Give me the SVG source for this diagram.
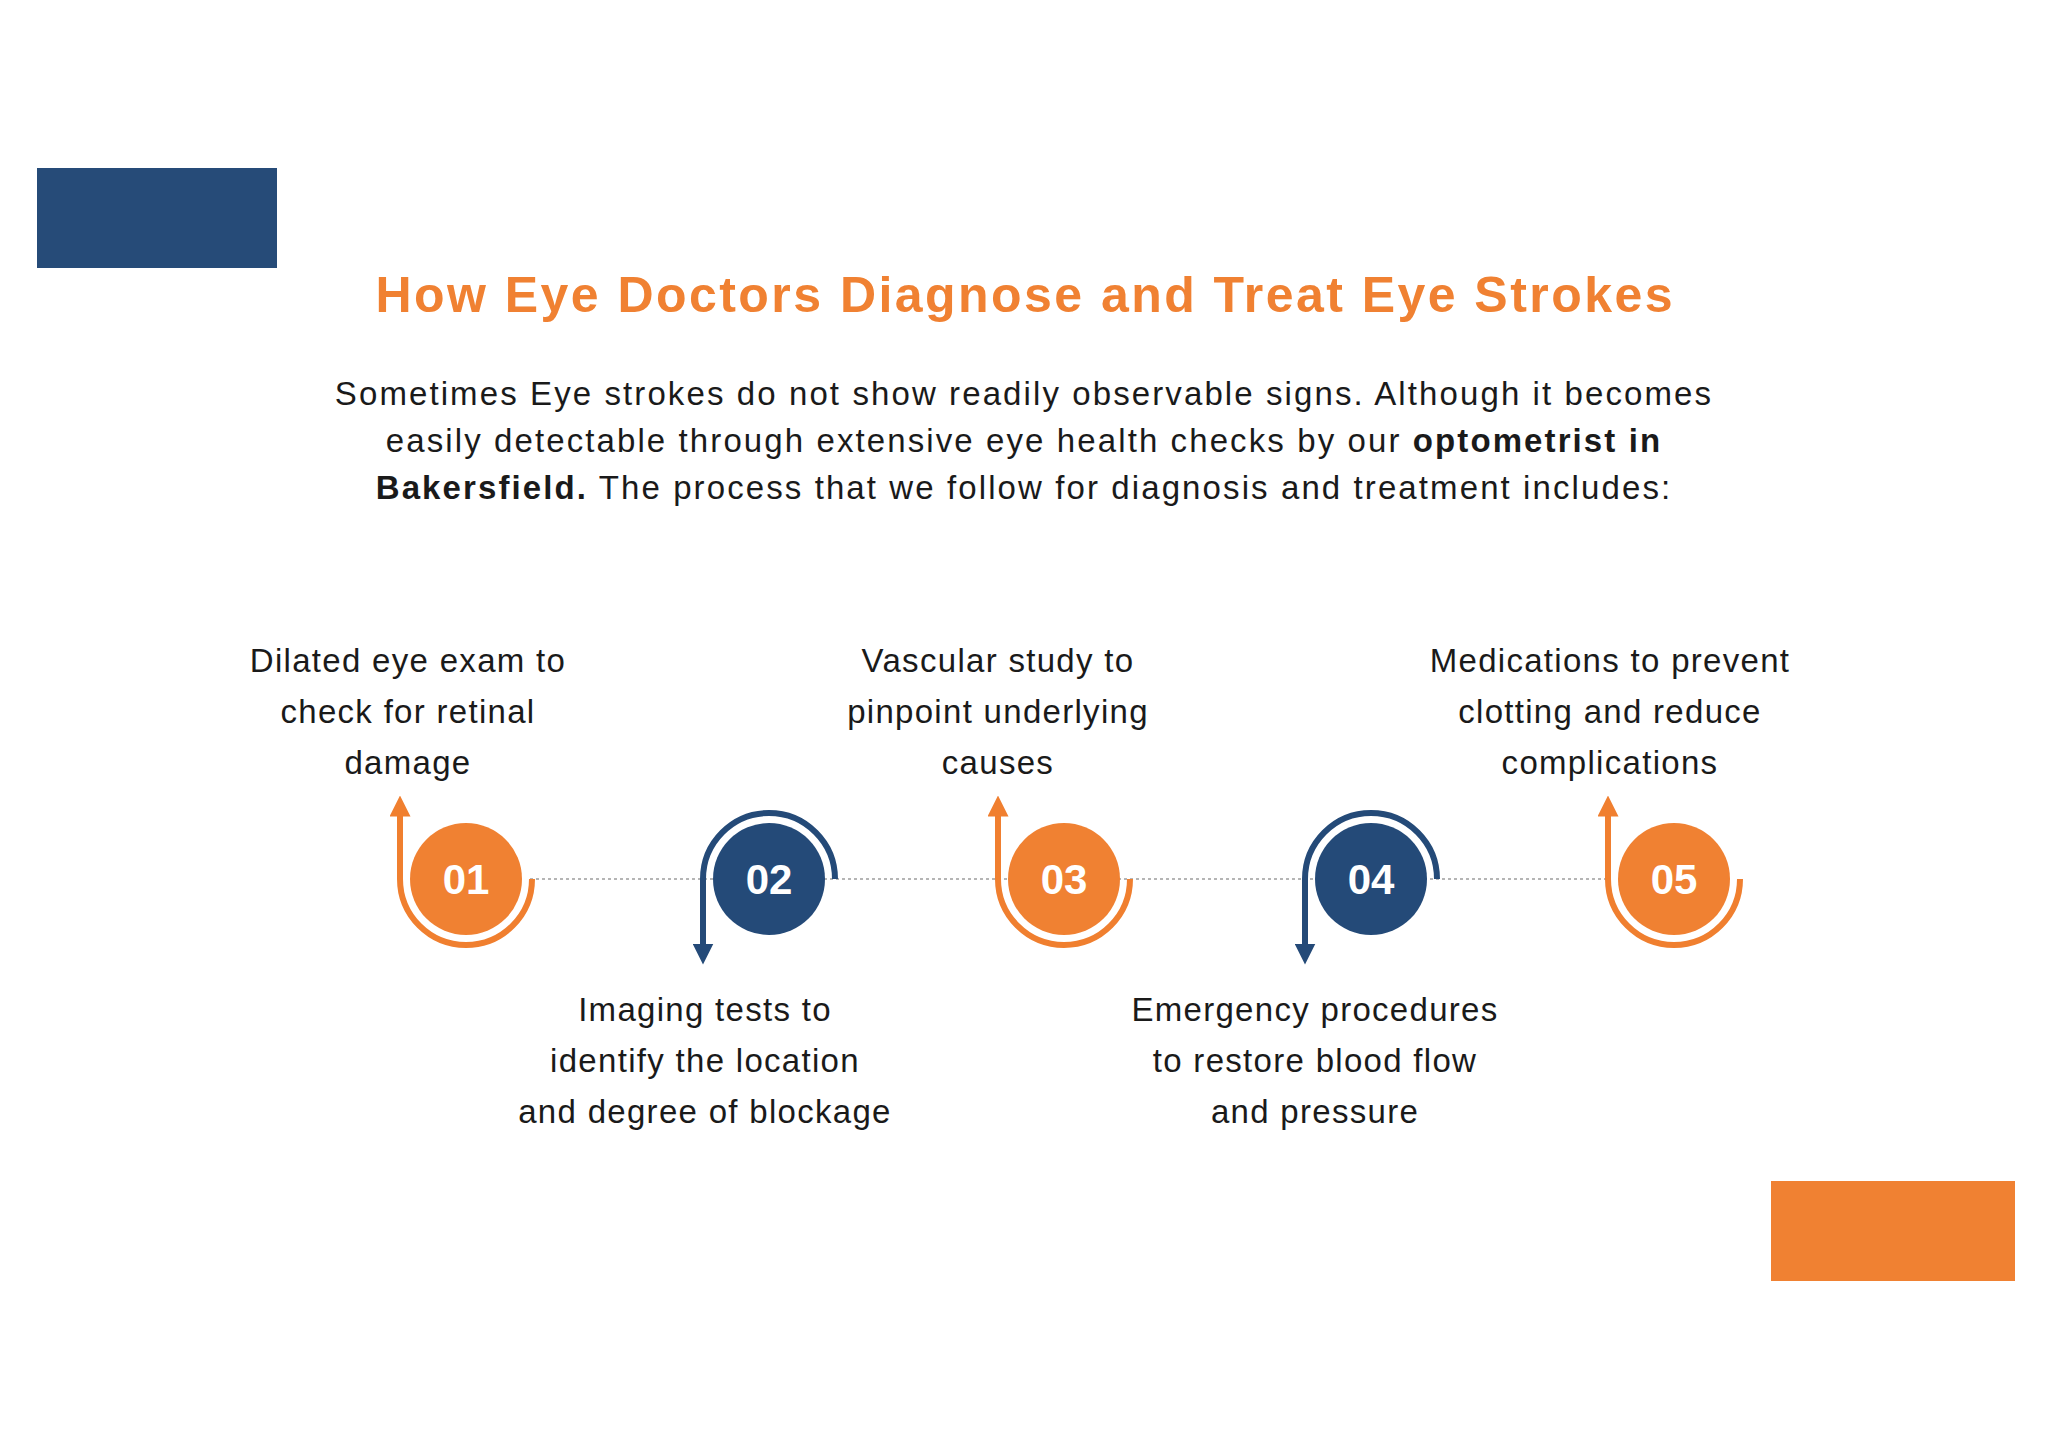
<svg xmlns="http://www.w3.org/2000/svg" width="2048" height="1447" viewBox="0 0 2048 1447">
<style>
.t{font-family:"Liberation Sans",Arial,sans-serif;fill:#1a1a1a;text-anchor:middle}
.p{font-size:33px;letter-spacing:2.1px}
.lbl{font-size:33px;letter-spacing:1.3px}
.num{font-family:"Liberation Sans",Arial,sans-serif;font-weight:bold;font-size:42px;fill:#fff;text-anchor:middle}
.oa{fill:none;stroke:#f07f2f;stroke-width:6}
.ba{fill:none;stroke:#244a78;stroke-width:6}
</style>
<defs>
<marker id="ao" viewBox="0 0 10 10" refX="5" refY="5" markerWidth="3.5" markerHeight="3.5" orient="auto"><path d="M0,0 L10,5 L0,10 z" fill="#f07f2f"/></marker>
<marker id="ab" viewBox="0 0 10 10" refX="5" refY="5" markerWidth="3.5" markerHeight="3.5" orient="auto"><path d="M0,0 L10,5 L0,10 z" fill="#244a78"/></marker>
</defs>
<rect width="2048" height="1447" fill="#fff"/>
<rect x="37" y="168" width="240" height="100" fill="#264b78"/>
<rect x="1771" y="1181" width="244" height="100" fill="#f08132"/>
<text x="1024" y="312" class="t" style="font-size:50px;font-weight:bold;fill:#f08132" textLength="1297">How Eye Doctors Diagnose and Treat Eye Strokes</text>
<text x="1024" y="405" class="t p">Sometimes Eye strokes do not show readily observable signs. Although it becomes</text>
<text x="1024" y="452" class="t p">easily detectable through extensive eye health checks by our <tspan font-weight="bold">optometrist in</tspan></text>
<text x="1024" y="499" class="t p"><tspan font-weight="bold">Bakersfield.</tspan> The process that we follow for diagnosis and treatment includes:</text>
<g id="connectors">
<line x1="530" y1="879" x2="1610" y2="879" stroke="#b5b5b5" stroke-width="2" stroke-dasharray="3,3"/>
</g>
<g id="n1">
<path class="oa" d="M400,879 A66,66 0 0 0 532,879 M400,879 V806" marker-end="url(#ao)"/>
<circle cx="466" cy="879" r="56" fill="#f08132"/>
<text x="466" y="894" class="num">01</text>
<text class="t lbl" x="408" y="672">Dilated eye exam to</text>
<text class="t lbl" x="408" y="723">check for retinal</text>
<text class="t lbl" x="408" y="774">damage</text>
</g>
<g id="n2">
<path class="ba" d="M835,879 A66,66 0 0 0 703,879 V954" marker-end="url(#ab)"/>
<circle cx="769" cy="879" r="56" fill="#244a78"/>
<text x="769" y="894" class="num">02</text>
<text class="t lbl" x="705" y="1021">Imaging tests to</text>
<text class="t lbl" x="705" y="1072">identify the location</text>
<text class="t lbl" x="705" y="1123">and degree of blockage</text>
</g>
<g id="n3">
<path class="oa" d="M998,879 A66,66 0 0 0 1130,879 M998,879 V806" marker-end="url(#ao)"/>
<circle cx="1064" cy="879" r="56" fill="#f08132"/>
<text x="1064" y="894" class="num">03</text>
<text class="t lbl" x="998" y="672">Vascular study to</text>
<text class="t lbl" x="998" y="723">pinpoint underlying</text>
<text class="t lbl" x="998" y="774">causes</text>
</g>
<g id="n4">
<path class="ba" d="M1437,879 A66,66 0 0 0 1305,879 V954" marker-end="url(#ab)"/>
<circle cx="1371" cy="879" r="56" fill="#244a78"/>
<text x="1371" y="894" class="num">04</text>
<text class="t lbl" x="1315" y="1021">Emergency procedures</text>
<text class="t lbl" x="1315" y="1072">to restore blood flow</text>
<text class="t lbl" x="1315" y="1123">and pressure</text>
</g>
<g id="n5">
<path class="oa" d="M1608,879 A66,66 0 0 0 1740,879 M1608,879 V806" marker-end="url(#ao)"/>
<circle cx="1674" cy="879" r="56" fill="#f08132"/>
<text x="1674" y="894" class="num">05</text>
<text class="t lbl" x="1610" y="672">Medications to prevent</text>
<text class="t lbl" x="1610" y="723">clotting and reduce</text>
<text class="t lbl" x="1610" y="774">complications</text>
</g>
</svg>
